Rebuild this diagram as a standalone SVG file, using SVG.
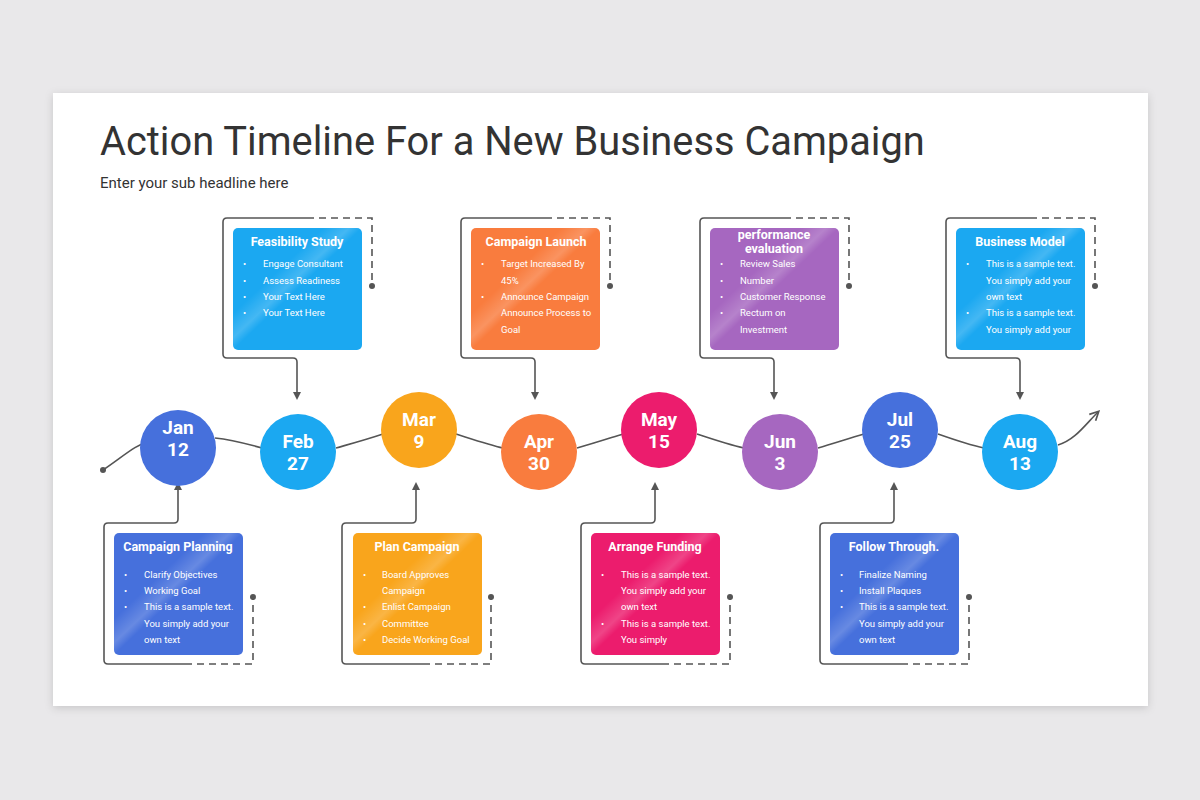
<svg xmlns="http://www.w3.org/2000/svg" width="1200" height="800" viewBox="0 0 1200 800">
<defs>
<style>
.t{font-family:Roboto,"Liberation Sans",sans-serif}
.ct{font-family:Roboto,"Liberation Sans",sans-serif;font-size:12.5px;font-weight:bold;fill:#fff;text-anchor:middle}
.b{font-family:Roboto,"Liberation Sans",sans-serif;font-size:9.5px;fill:#fff}
.d{font-family:Roboto,"Liberation Sans",sans-serif;font-size:19px;font-weight:bold;fill:#fff;text-anchor:middle}
.sl{fill:none;stroke:#555;stroke-width:1.6}
.dl{fill:none;stroke:#555;stroke-width:1.6;stroke-dasharray:7 5}
</style>
<marker id="ar" viewBox="0 0 10 10" refX="5" refY="5" markerWidth="5" markerHeight="5" orient="auto-start-reverse"><path d="M0,0L10,5L0,10z" fill="#555"/></marker>
<marker id="ao" viewBox="0 0 10 10" refX="8" refY="5" markerWidth="7" markerHeight="7" orient="auto"><path d="M1,1L9,5L1,9" fill="none" stroke="#555" stroke-width="1.5"/></marker>
<linearGradient id="sh" x1="0" y1="0" x2="1" y2="1"><stop offset="0.35" stop-color="#fff" stop-opacity="0"/><stop offset="0.45" stop-color="#fff" stop-opacity="0.18"/><stop offset="0.5" stop-color="#fff" stop-opacity="0"/></linearGradient>
<filter id="f" x="-5%" y="-5%" width="110%" height="110%"><feDropShadow dx="0" dy="2" stdDeviation="4" flood-opacity="0.15"/></filter>
</defs>
<rect width="1200" height="800" fill="#e9e8ea"/>
<rect x="53" y="93" width="1095" height="613" fill="#fff" filter="url(#f)"/>
<text class="t" x="100" y="155" font-size="39.8" fill="#333">Action Timeline For a New Business Campaign</text>
<text class="t" x="100" y="188" font-size="15" fill="#333">Enter your sub headline here</text>

<g id="connectors">
<path class="sl" d="M103,470 C125,455 135,445 150,441 M215,438 C235,440 250,445 262,448 M336,448 C350,444 365,440 383,434 M456,434 C475,440 490,445 503,448 M577,448 C595,443 610,438 623,434 M697,434 C715,440 730,445 744,448 M818,448 C835,443 850,438 864,434 M938,434 C955,440 970,445 984,448 M1058,445 C1075,440 1085,425 1098,412" marker-end="url(#ao)"/>
<circle cx="103" cy="470" r="3" fill="#555"/>
<g id="top-frames">
<g transform="translate(0,0)"><path class="sl" d="M307,218H227Q223,218 223,222V354Q223,358 227,358H293Q297,358 297,362V396" marker-end="url(#ar)"/><path class="dl" d="M307,218H372V286"/><circle cx="372" cy="286" r="3" fill="#555"/></g>
<g transform="translate(238,0)"><path class="sl" d="M307,218H227Q223,218 223,222V354Q223,358 227,358H293Q297,358 297,362V396" marker-end="url(#ar)"/><path class="dl" d="M307,218H372V286"/><circle cx="372" cy="286" r="3" fill="#555"/></g>
<g transform="translate(477,0)"><path class="sl" d="M307,218H227Q223,218 223,222V354Q223,358 227,358H293Q297,358 297,362V396" marker-end="url(#ar)"/><path class="dl" d="M307,218H372V286"/><circle cx="372" cy="286" r="3" fill="#555"/></g>
<g transform="translate(723,0)"><path class="sl" d="M307,218H227Q223,218 223,222V354Q223,358 227,358H293Q297,358 297,362V396" marker-end="url(#ar)"/><path class="dl" d="M307,218H372V286"/><circle cx="372" cy="286" r="3" fill="#555"/></g>
</g>
<g id="bottom-frames">
<g transform="translate(0,0)"><path class="sl" d="M185,664H108Q104,664 104,660V527Q104,523 108,523H174Q178,523 178,519V486" marker-end="url(#ar)"/><path class="dl" d="M185,664H253V597"/><circle cx="253" cy="597" r="3" fill="#555"/></g>
<g transform="translate(238,0)"><path class="sl" d="M185,664H108Q104,664 104,660V527Q104,523 108,523H174Q178,523 178,519V486" marker-end="url(#ar)"/><path class="dl" d="M185,664H253V597"/><circle cx="253" cy="597" r="3" fill="#555"/></g>
<g transform="translate(477,0)"><path class="sl" d="M185,664H108Q104,664 104,660V527Q104,523 108,523H174Q178,523 178,519V486" marker-end="url(#ar)"/><path class="dl" d="M185,664H253V597"/><circle cx="253" cy="597" r="3" fill="#555"/></g>
<g transform="translate(716,0)"><path class="sl" d="M185,664H108Q104,664 104,660V527Q104,523 108,523H174Q178,523 178,519V486" marker-end="url(#ar)"/><path class="dl" d="M185,664H253V597"/><circle cx="253" cy="597" r="3" fill="#555"/></g>
</g>
</g>

<g id="dates">
<g id="jan"><circle cx="178" cy="448" r="38" fill="#4670dc"/><text class="d" x="178" y="434">Jan</text><text class="d" x="178" y="456">12</text></g>
<g id="feb"><circle cx="298" cy="452" r="38" fill="#1ba8f1"/><text class="d" x="298" y="448">Feb</text><text class="d" x="298" y="470">27</text></g>
<g id="mar"><circle cx="419" cy="430" r="38" fill="#f9a51c"/><text class="d" x="419" y="426">Mar</text><text class="d" x="419" y="448">9</text></g>
<g id="apr"><circle cx="539" cy="452" r="38" fill="#f97c3e"/><text class="d" x="539" y="448">Apr</text><text class="d" x="539" y="470">30</text></g>
<g id="may"><circle cx="659" cy="430" r="38" fill="#ec1c6d"/><text class="d" x="659" y="426">May</text><text class="d" x="659" y="448">15</text></g>
<g id="jun"><circle cx="780" cy="452" r="38" fill="#a667c0"/><text class="d" x="780" y="448">Jun</text><text class="d" x="780" y="470">3</text></g>
<g id="jul"><circle cx="900" cy="430" r="38" fill="#4670dc"/><text class="d" x="900" y="426">Jul</text><text class="d" x="900" y="448">25</text></g>
<g id="aug"><circle cx="1020" cy="452" r="38" fill="#1ba8f1"/><text class="d" x="1020" y="448">Aug</text><text class="d" x="1020" y="470">13</text></g>
</g>

<g id="card-feasibility"><rect x="233" y="228" width="129" height="122" rx="5" fill="#1ba8f1"/><rect x="233" y="228" width="129" height="122" rx="5" fill="url(#sh)"/>
<text class="ct" x="297" y="246">Feasibility Study</text>
<g class="b"><text x="243" y="267">•</text><text x="263" y="267">Engage Consultant</text><text x="243" y="284">•</text><text x="263" y="284">Assess Readiness</text><text x="243" y="300">•</text><text x="263" y="300">Your Text Here</text><text x="243" y="316">•</text><text x="263" y="316">Your Text Here</text></g></g>

<g id="card-launch"><rect x="471" y="228" width="129" height="122" rx="5" fill="#f97c3e"/><rect x="471" y="228" width="129" height="122" rx="5" fill="url(#sh)"/>
<text class="ct" x="536" y="246">Campaign Launch</text>
<g class="b"><text x="481" y="267">•</text><text x="501" y="267">Target Increased By</text><text x="501" y="284">45%</text><text x="481" y="300">•</text><text x="501" y="300">Announce Campaign</text><text x="501" y="316">Announce Process to</text><text x="501" y="333">Goal</text></g></g>

<g id="card-performance"><rect x="710" y="228" width="129" height="122" rx="5" fill="#a667c0"/><rect x="710" y="228" width="129" height="122" rx="5" fill="url(#sh)"/>
<text class="ct" x="774" y="239">performance</text><text class="ct" x="774" y="253">evaluation</text>
<g class="b"><text x="720" y="267">•</text><text x="740" y="267">Review Sales</text><text x="720" y="284">•</text><text x="740" y="284">Number</text><text x="720" y="300">•</text><text x="740" y="300">Customer Response</text><text x="720" y="316">•</text><text x="740" y="316">Rectum on</text><text x="740" y="333">Investment</text></g></g>

<g id="card-business"><rect x="956" y="228" width="129" height="122" rx="5" fill="#1ba8f1"/><rect x="956" y="228" width="129" height="122" rx="5" fill="url(#sh)"/>
<text class="ct" x="1020" y="246">Business Model</text>
<g class="b"><text x="966" y="267">•</text><text x="986" y="267">This is a sample text.</text><text x="986" y="284">You simply add your</text><text x="986" y="300">own text</text><text x="966" y="316">•</text><text x="986" y="316">This is a sample text.</text><text x="986" y="333">You simply add your</text></g></g>

<g id="card-planning"><rect x="114" y="533" width="129" height="122" rx="5" fill="#4670dc"/><rect x="114" y="533" width="129" height="122" rx="5" fill="url(#sh)"/>
<text class="ct" x="178" y="551">Campaign Planning</text>
<g class="b"><text x="124" y="578">•</text><text x="144" y="578">Clarify Objectives</text><text x="124" y="594">•</text><text x="144" y="594">Working Goal</text><text x="124" y="610">•</text><text x="144" y="610">This is a sample text.</text><text x="144" y="627">You simply add your</text><text x="144" y="643">own text</text></g></g>

<g id="card-plan"><rect x="353" y="533" width="129" height="122" rx="5" fill="#f9a51c"/><rect x="353" y="533" width="129" height="122" rx="5" fill="url(#sh)"/>
<text class="ct" x="417" y="551">Plan Campaign</text>
<g class="b"><text x="363" y="578">•</text><text x="382" y="578">Board Approves</text><text x="382" y="594">Campaign</text><text x="363" y="610">•</text><text x="382" y="610">Enlist Campaign</text><text x="363" y="627">•</text><text x="382" y="627">Committee</text><text x="363" y="643">•</text><text x="382" y="643">Decide Working Goal</text></g></g>

<g id="card-funding"><rect x="591" y="533" width="129" height="122" rx="5" fill="#ec1c6d"/><rect x="591" y="533" width="129" height="122" rx="5" fill="url(#sh)"/>
<text class="ct" x="655" y="551">Arrange Funding</text>
<g class="b"><text x="601" y="578">•</text><text x="621" y="578">This is a sample text.</text><text x="621" y="594">You simply add your</text><text x="621" y="610">own text</text><text x="601" y="627">•</text><text x="621" y="627">This is a sample text.</text><text x="621" y="643">You simply</text></g></g>

<g id="card-follow"><rect x="830" y="533" width="129" height="122" rx="5" fill="#4670dc"/><rect x="830" y="533" width="129" height="122" rx="5" fill="url(#sh)"/>
<text class="ct" x="894" y="551">Follow Through.</text>
<g class="b"><text x="840" y="578">•</text><text x="859" y="578">Finalize Naming</text><text x="840" y="594">•</text><text x="859" y="594">Install Plaques</text><text x="840" y="610">•</text><text x="859" y="610">This is a sample text.</text><text x="859" y="627">You simply add your</text><text x="859" y="643">own text</text></g></g>
</svg>
